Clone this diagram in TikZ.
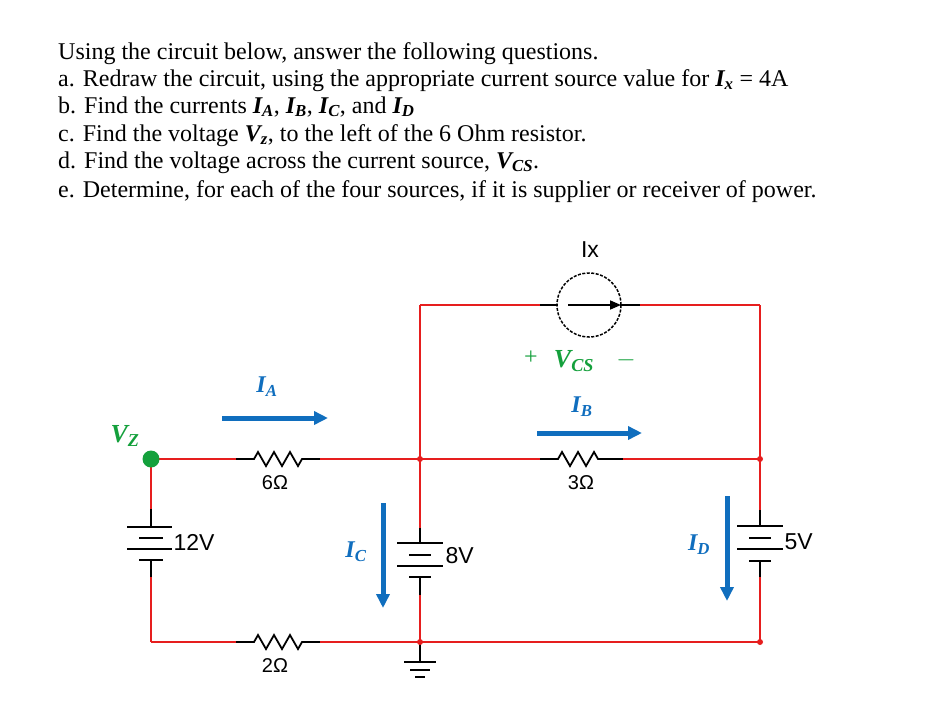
\documentclass[tikz,border=0pt]{standalone}
\usepackage{fontspec}
\setmainfont{Liberation Serif}
\newfontfamily\sansf{Liberation Sans}
\usetikzlibrary{arrows.meta,decorations.pathmorphing}
\definecolor{wire}{RGB}{230,30,30}
\definecolor{barrow}{RGB}{16,110,190}
\definecolor{gr}{RGB}{20,160,60}
\begin{document}
\begin{tikzpicture}[x=1pt,y=-1pt,
  w/.style={wire,line width=1.8pt},
  k/.style={black,line width=1.8pt},
  res/.style={k,decorate,decoration={zigzag,segment length=16pt,amplitude=7pt,pre length=18pt,post length=18pt}},
  ba/.style={barrow,line width=5pt,-{Triangle[width=13pt,length=14pt]}},
  sl/.style={font=\sansf\fontsize{23}{25}\selectfont},
  rl/.style={font=\sansf\fontsize{20}{22}\selectfont},
  il/.style={barrow,font=\bfseries\itshape\fontsize{24}{26}\selectfont},
  dot/.style={circle,fill=wire,inner sep=0pt,minimum size=6pt}]
\useasboundingbox (0,0) rectangle (946,710);
% text
\begin{scope}[every node/.style={anchor=base west,font=\fontsize{24}{26}\selectfont,inner sep=0pt}]
\node (l1) at (58,59) {Using the circuit below, answer the following questions.};
\node (l2) at (58,86) {a. Redraw the circuit, using the appropriate current source value for \textbf{\textit{I\textsubscript{x}}} = 4A};
\node (l3) at (58,113) {b. Find the currents \textbf{\textit{I\textsubscript{A}}}, \textbf{\textit{I\textsubscript{B}}}, \textbf{\textit{I\textsubscript{C}}}, and \textbf{\textit{I\textsubscript{D}}}};
\node (l4) at (58,141) {c. Find the voltage \textbf{\textit{V\textsubscript{z}}}, to the left of the 6 Ohm resistor.};
\node (l5) at (58,168) {d. Find the voltage across the current source, \textbf{\textit{V\textsubscript{CS}}}.};
\node (l6) at (58,197) {e. Determine, for each of the four sources, if it is supplier or receiver of power.};
\end{scope}
% nodes
\coordinate (A) at (151,459); \coordinate (B) at (420,459); \coordinate (C) at (760,459);
\coordinate (D) at (151,642); \coordinate (E) at (420,642); \coordinate (F) at (760,642);
\coordinate (T1) at (420,305); \coordinate (T2) at (760,305);
% top wire with current source
\draw[w] (T1) -- (540,305); \draw[k] (540,305) -- (640,305); \draw[w] (640,305) -- (T2);
\node[circle,draw,dashed,dash pattern=on 3pt off 1.5pt,line width=1.5pt,minimum size=64pt,fill=white] (cs) at (589,305) {};
\draw[k,line width=1.6pt,-{Triangle[width=9pt,length=11pt]}] (568,305) -- (621,305);
\node[sl] (ix) at (590,250) {Ix};
\node[gr,font=\fontsize{24}{26}\selectfont] (pl) at (531,358) {+};
\node[gr,font=\bfseries\itshape\fontsize{26}{28}\selectfont] (vcs) at (574,361) {V\textsubscript{CS}};
\node[gr,font=\fontsize{24}{26}\selectfont] (mi) at (626,360) {$-$};
% verticals
\draw[w] (T1) -- (B) -- (420,528); \draw[w] (420,595) -- (E);
\draw[w] (T2) -- (C) -- (760,510); \draw[w] (760,577) -- (F);
\draw[w] (A) -- (151,509); \draw[w] (151,577) -- (D);
% top horizontal
\draw[w] (A) -- (236,459); \draw[res] (236,459) -- (320,459); \draw[w] (320,459) -- (B);
\draw[w] (B) -- (540,459); \draw[res] (540,459) -- (623,459); \draw[w] (623,459) -- (C);
% bottom
\draw[w] (D) -- (236,642); \draw[res] (236,642) -- (320,642); \draw[w] (320,642) -- (E) -- (F);
\node[rl] (r6) at (275,483) {6Ω};
\node[rl] (r3) at (581,483) {3Ω};
\node[rl] (r2) at (275,666) {2Ω};
% batteries
\draw[k] (151,509) -- (151,527) (127,527) -- (172,527) (139,538) -- (163,538) (127,549) -- (172,549) (139,560) -- (163,560) (151,560) -- (151,577);
\node[sl,anchor=west] (b12) at (170,542) {12V};
\draw[k] (420,528) -- (420,543) (397,543) -- (443,543) (409,555) -- (431,555) (397,566) -- (443,566) (409,577) -- (431,577) (420,577) -- (420,595);
\node[sl,anchor=west] (b8) at (442,556) {8V};
\draw[k] (760,510) -- (760,526) (737,526) -- (783,526) (749,538) -- (771,538) (737,549) -- (783,549) (749,561) -- (771,561) (760,561) -- (760,577);
\node[sl,anchor=west] (b5) at (781,542) {5V};
% ground
\draw[k] (E) -- (420,662) (404,662) -- (436,662) (410,670) -- (430,670) (415,677) -- (425,677);
% dots
\node[dot] (dB) at (B) {}; \node[dot] (dC) at (C) {}; \node[dot] (dE) at (E) {}; \node[dot] (dF) at (F) {};
\node[circle,fill=gr,inner sep=0pt,minimum size=17pt] (vz) at (A) {};
\node[gr,font=\bfseries\itshape\fontsize{26}{28}\selectfont] (vzl) at (125,436) {V\textsubscript{Z}};
% current arrows
\draw[ba] (222,418) -- (328,418); \node[il] (ia) at (267,387) {I\textsubscript{A}};
\draw[ba] (537,433) -- (642,433); \node[il] (ib) at (582,407) {I\textsubscript{B}};
\draw[ba] (383,503) -- (383,608); \node[il] (ic) at (356,552) {I\textsubscript{C}};
\draw[ba] (727,496) -- (727,601); \node[il] (id) at (699,545) {I\textsubscript{D}};
\end{tikzpicture}
\end{document}
